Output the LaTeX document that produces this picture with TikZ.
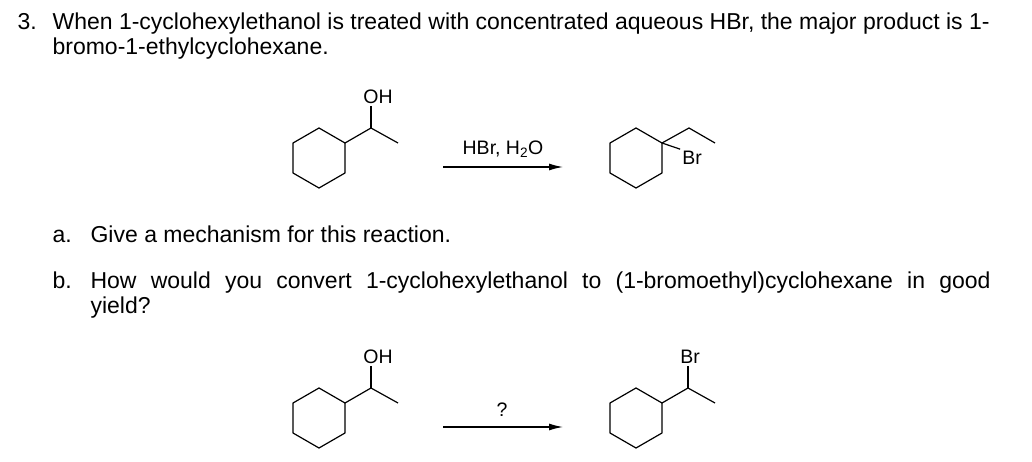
\documentclass[tikz,border=0pt]{standalone}
\usepackage{fontspec}
\setmainfont{Liberation Sans}
\usetikzlibrary{arrows.meta}
\begin{document}
\begin{tikzpicture}[x=1pt,y=-1pt,line width=1.2pt,
  txt/.style={anchor=base west,inner sep=0pt,font=\fontsize{23}{27}\selectfont},
  lab/.style={inner sep=1.5pt,font=\fontsize{19.5}{23}\selectfont},
  rxn/.style={-{Latex[length=14pt,width=7pt]},line width=1.3pt}]
\useasboundingbox (0,0) rectangle (1032,462);
\node[txt] (n3) at (17,30) {3.};
\node[txt] (l1) at (52,30) {When 1-cyclohexylethanol is treated with concentrated aqueous HBr, the major product is 1-};
\node[txt] (l2) at (52,55) {bromo-1-ethylcyclohexane.};
\node[txt] (na) at (52,242) {a.};
\node[txt] (la) at (90,242) {Give a mechanism for this reaction.};
\node[txt] (nb) at (52,288) {b.};
\node[txt] (lb) at (90,288) {\makebox[900pt][s]{How would you convert 1-cyclohexylethanol to (1-bromoethyl)cyclohexane in good}};
\node[txt] (lc) at (90,313) {yield?};
\foreach \cx/\cy in {319/158,636/158,319/418,636/418}{
  \draw[line join=round] (\cx,\cy-30) -- (\cx+26,\cy-15) -- (\cx+26,\cy+15) -- (\cx,\cy+30) -- (\cx-26,\cy+15) -- (\cx-26,\cy-15) -- cycle;
}
% top reactant
\node[lab] (oh1) at (378,97) {OH};
\coordinate (c1) at (371,128);
\draw[line join=round] (345,143) -- (c1) -- (398,143);
\draw (c1) -- (371,106);
% top arrow
\coordinate (a1) at (443,167); \coordinate (b1) at (563,167);
\draw[rxn] (a1) -- (b1);
\node[lab] (r1) at (503,149) {HBr, H\textsubscript{2}O};
% top product
\node[lab] (br1) at (692,158) {Br};
\coordinate (q1) at (662,143);
\draw[line join=round] (q1) -- (689,128) -- (715,143);
\draw (q1) -- (br1.north west);
% bottom reactant
\node[lab] (oh2) at (378,357) {OH};
\coordinate (c2) at (371,388);
\draw[line join=round] (345,403) -- (c2) -- (398,403);
\draw (c2) -- (371,366);
% bottom arrow
\coordinate (a2) at (443,427); \coordinate (b2) at (563,427);
\draw[rxn] (a2) -- (b2);
\node[lab] (r2) at (502,410) {?};
% bottom product
\node[lab] (br2) at (690,357) {Br};
\coordinate (c3) at (688,388);
\draw[line join=round] (662,403) -- (c3) -- (715,403);
\draw (c3) -- (688,366);
\end{tikzpicture}
\end{document}
